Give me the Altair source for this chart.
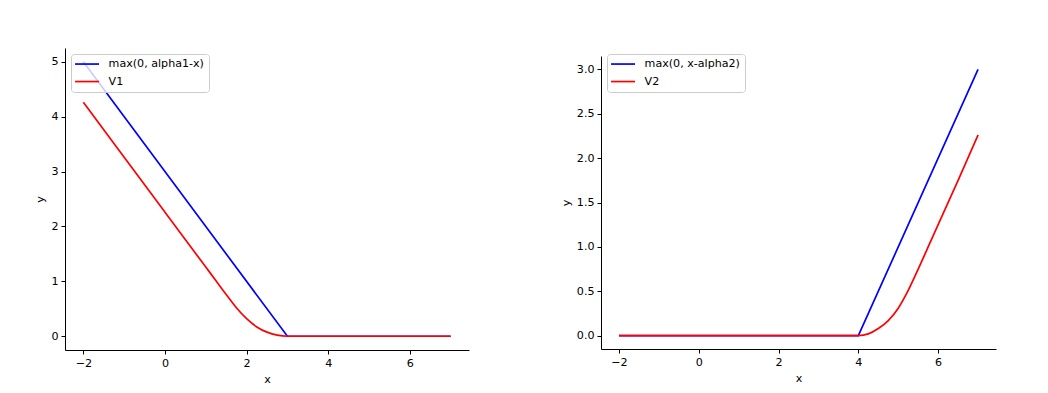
import altair as alt
import pandas as pd

# Left panel data
x_b1 = [-2, 3, 7]
y_b1 = [5, 0, 0]
x_v1 = [-2, -1, 0, 1, 1.25, 1.5, 1.75, 2.0, 2.25, 2.5, 2.75, 3.0, 4, 5, 6, 7]
y_v1 = [4.26, 3.26, 2.26, 1.26, 1.01, 0.76, 0.52, 0.32, 0.17, 0.075, 0.02, 0.0, 0, 0, 0, 0]

# Right panel data
x_b2 = [-2, 4, 7]
y_b2 = [0, 0, 3]
x_v2 = [-2, 0, 2, 4, 4.25, 4.5, 4.75, 5.0, 5.25, 5.5, 5.75, 6.0, 6.5, 7.0]
y_v2 = [0, 0, 0, 0, 0.02, 0.08, 0.17, 0.31, 0.51, 0.75, 1.0, 1.25, 1.75, 2.26]

lab_b1 = "max(0, alpha1-x)"
lab_v1 = "V1"
lab_b2 = "max(0, x-alpha2)"
lab_v2 = "V2"

x_ticks = [-2, 0, 2, 4, 6]
y1_ticks = [0, 1, 2, 3, 4, 5]
y2_ticks = [0, 0.5, 1.0, 1.5, 2.0, 2.5, 3.0]

df_b1 = pd.DataFrame({"x": x_b1, "y": y_b1, "s": lab_b1})
df_v1 = pd.DataFrame({"x": x_v1, "y": y_v1, "s": lab_v1})
df_b2 = pd.DataFrame({"x": x_b2, "y": y_b2, "s": lab_b2})
df_v2 = pd.DataFrame({"x": x_v2, "y": y_v2, "s": lab_v2})

FONT = "DejaVu Sans"
FS = 11.1
LW = 1.7

legend = alt.Legend(
    title=None, orient="top-left", offset=6, symbolType="M-2,0H6",
    symbolSize=36, symbolStrokeWidth=LW, labelFontSize=FS, labelFont=FONT,
    labelColor="black", labelOffset=22, padding=4.5, rowPadding=5.5,
    fillColor="rgba(255,255,255,0.8)", strokeColor="#cccccc", cornerRadius=3,
)


def panel(df_b, df_v, lb, lv, yticks, ydom, yfmt, w, h):
    xenc = alt.X("x:Q", scale=alt.Scale(domain=[-2.45, 7.45], nice=False, zero=False),
                 axis=alt.Axis(values=x_ticks, format="d", title="x"))
    yenc = alt.Y("y:Q", scale=alt.Scale(domain=ydom, nice=False, zero=False),
                 axis=alt.Axis(values=yticks, format=yfmt, title="y"))
    cenc = alt.Color("s:N", scale=alt.Scale(domain=[lb, lv], range=["#0000ff", "#ff0000"]),
                     legend=legend)
    blue = alt.Chart(df_b).mark_line(strokeWidth=LW).encode(x=xenc, y=yenc, color=cenc)
    red = alt.Chart(df_v).mark_line(strokeWidth=LW, interpolate="monotone").encode(
        x=xenc, y=yenc, color=cenc)
    return alt.layer(blue, red).properties(width=w, height=h)


left = panel(df_b1, df_v1, lab_b1, lab_v1, y1_ticks, [-0.25, 5.25], "d", 404, 302)
right_plot = panel(df_b2, df_v2, lab_b2, lab_v2, y2_ticks, [-0.15, 3.15], ".1f", 395, 293)

spacer = alt.Chart(pd.DataFrame({"a": [0]})).mark_point(opacity=0, size=0).encode(
    x=alt.value(0), y=alt.value(0)
).properties(width=1, height=1)

right = alt.vconcat(spacer, right_plot, spacing=7)

chart = alt.hconcat(left, right, spacing=91).resolve_scale(color="independent").resolve_legend(
    color="independent"
).properties(
    padding={"left": 26, "top": 40, "right": 5, "bottom": 5}
).configure_view(stroke=None).configure_axis(
    grid=False, domainColor="black", domainWidth=1, tickColor="black", tickWidth=1,
    tickSize=4, labelFontSize=FS, labelFont=FONT, labelColor="black", labelPadding=3,
    titleFontSize=FS, titleFont=FONT, titleFontWeight="normal", titleColor="black",
    titlePadding=5,
)

chart.save("out.html", embed_options={"renderer": "svg", "actions": False})
